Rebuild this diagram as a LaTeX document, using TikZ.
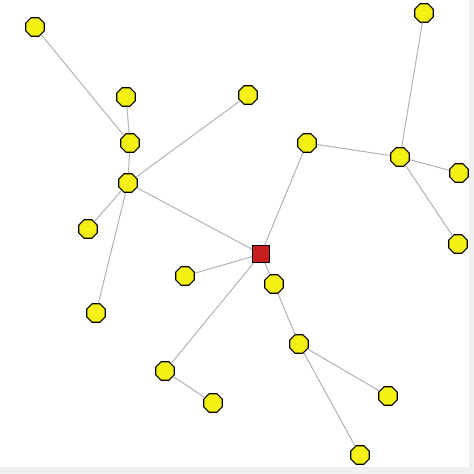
\documentclass[tikz,border=0pt]{standalone}
\usepackage{xcolor}
\usepackage{tikz}
\usetikzlibrary{shapes.geometric, positioning}
\definecolor{nodeyellow}{RGB}{245,240,20}
\definecolor{hubred}{RGB}{200,30,30}
\tikzset{x=1pt, y=-1pt,
         leaf/.style={regular polygon, regular polygon sides=8, draw=black, line width=1.1pt,
                      fill=nodeyellow, minimum size=20pt, inner sep=0pt},
         hub/.style={rectangle, draw=black, line width=1.1pt, fill=hubred,
                     minimum size=17pt, inner sep=0pt},
         link/.style={draw=gray!60, line width=1pt},
         }

\begin{document}
\begin{tikzpicture}
    \useasboundingbox (0,0) rectangle (474,474);
    \fill[gray!12] (469,0) rectangle (474,474);
    \fill[gray!12] (0,467) rectangle (474,474);

    \node[hub] (q0) at (261,254) {};
    \node[leaf] (q1) at (35,27) {};
    \node[leaf] (q2) at (424,13) {};
    \node[leaf] (q3) at (126,97) {};
    \node[leaf] (q4) at (248,95) {};
    \node[leaf] (q5) at (130,143) {};
    \node[leaf] (q6) at (307,143) {};
    \node[leaf] (q7) at (400,157) {};
    \node[leaf] (q8) at (459,173) {};
    \node[leaf] (q9) at (128,183) {};
    \node[leaf] (q10) at (88,229) {};
    \node[leaf] (q11) at (458,244) {};
    \node[leaf] (q12) at (185,276) {};
    \node[leaf] (q13) at (274,284) {};
    \node[leaf] (q14) at (96,313) {};
    \node[leaf] (q15) at (299,344) {};
    \node[leaf] (q16) at (165,371) {};
    \node[leaf] (q17) at (213,403) {};
    \node[leaf] (q18) at (388,396) {};
    \node[leaf] (q19) at (360,455) {};

    \draw[link] (q1) -- (q5)
                (q3) -- (q5)
                (q5) -- (q9)
                (q4) -- (q9)
                (q10) -- (q9)
                (q14) -- (q9)
                (q9) -- (q0)
                (q0) -- (q6)
                (q6) -- (q7)
                (q2) -- (q7)
                (q7) -- (q8)
                (q7) -- (q11)
                (q0) -- (q12)
                (q0) -- (q13)
                (q0) -- (q16)
                (q16) -- (q17)
                (q13) -- (q15)
                (q15) -- (q18)
                (q15) -- (q19);
\end{tikzpicture}
\end{document}
